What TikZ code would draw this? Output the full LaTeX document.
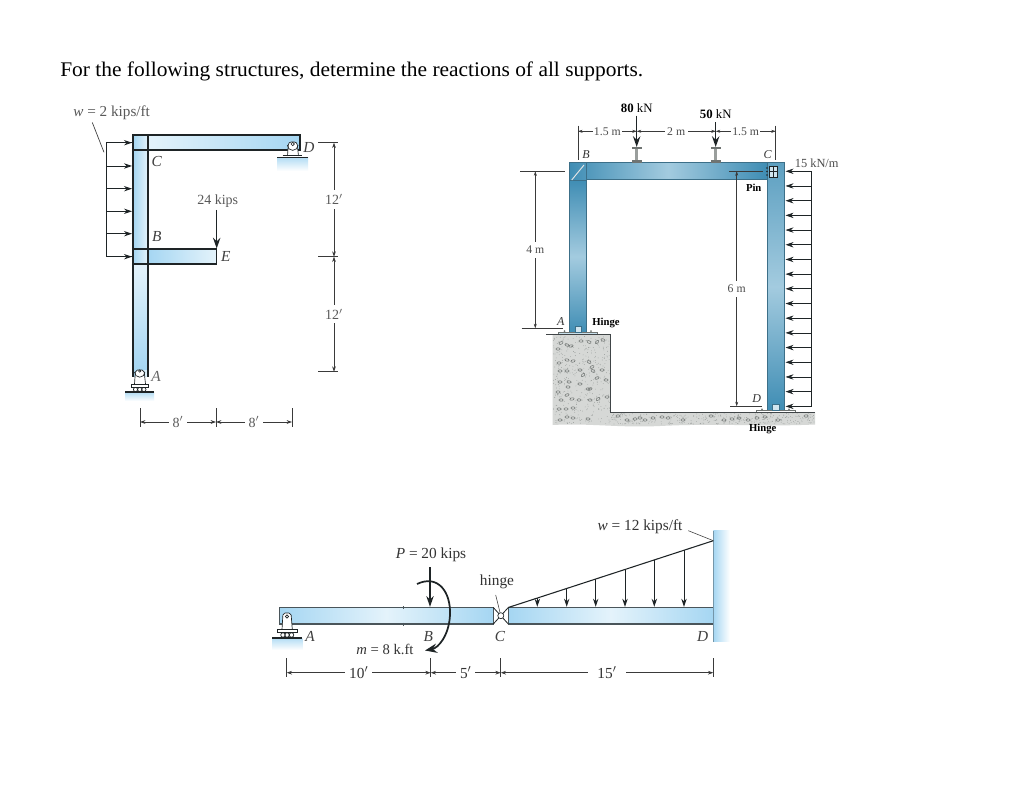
\documentclass[tikz,border=0pt]{standalone}
\usepackage{fontspec}
\setmainfont{Liberation Serif}
\usetikzlibrary{arrows.meta,calc}
\definecolor{inkk}{HTML}{1E2426}
\definecolor{dimc}{HTML}{3A3A3A}
\definecolor{skya}{HTML}{A5D6F2}
\definecolor{skyb}{HTML}{E4F3FB}
\definecolor{steela}{HTML}{3F8DB4}
\definecolor{steelb}{HTML}{A3CBDF}
\definecolor{steeld}{HTML}{3C6F88}
\definecolor{conc}{HTML}{D6D8D6}
\definecolor{stone}{HTML}{6F7472}
\definecolor{beamc}{HTML}{4A555A}
\tikzset{
  lbl/.style={inner sep=0pt,font=\fontsize{11.5pt}{13pt}\selectfont,text=black!80},
  flbl/.style={inner sep=0pt,font=\fontsize{10.5pt}{12pt}\selectfont,text=black!65},
  ilbl/.style={inner sep=0pt,font=\fontsize{11.5pt}{13pt}\selectfont\itshape,text=black!75},
  silbl/.style={inner sep=0pt,font=\fontsize{9pt}{10pt}\selectfont\itshape,text=black!80},
  blbl/.style={inner sep=0pt,font=\fontsize{8pt}{9pt}\selectfont\bfseries},
  slbl/.style={inner sep=0pt,font=\fontsize{8.8pt}{10pt}\selectfont,text=black!70},
  bkn/.style={inner sep=0pt,font=\fontsize{9.6pt}{11pt}\selectfont},
  dimline/.style={draw=dimc,line width=0.55pt},
  dimarrow/.style={dimline,{Stealth[length=4pt,width=2.8pt]}-{Stealth[length=4pt,width=2.8pt]}},
  thindim/.style={draw=dimc,line width=0.35pt},
  thinarrow/.style={thindim,{Stealth[length=3.4pt,width=2.2pt]}-{Stealth[length=3.4pt,width=2.2pt]}},
  loadarrow/.style={draw=inkk,line width=0.6pt,-{Stealth[length=6pt,width=4pt]}},
  forcearrow/.style={draw=inkk,line width=1.1pt,-{Stealth[length=8pt,width=5.5pt]}},
  member/.style={draw=inkk,line width=1.3pt},
  plate/.style={draw=inkk,fill=white,line width=0.5pt},
  groundfade/.style={top color=skya!85!white,bottom color=white,draw=none},
  aggr/.style={draw=stone,line width=0.4pt,fill=none},
}
\begin{document}
\begin{tikzpicture}[x=0.75pt,y=-0.75pt]
\useasboundingbox (0,0) rectangle (1024,798);
\fill[white] (0,0) rectangle (1024,798);

% heading
\node[anchor=base west,inner sep=0pt] (title) at (60,77)
  {\resizebox{437.25pt}{11pt}{\fontsize{15pt}{18pt}\selectfont For the following structures, determine the reactions of all supports.}};

% ===================== frame 1
\shade[left color=skya,right color=skyb] (133,135) rectangle (148,377);
\shade[left color=skyb,right color=skya] (148,135.5) rectangle (300,150);
\shade[left color=skya,right color=skyb] (148,249) rectangle (216.5,264);
\shade[top color=skyb,bottom color=skya] (133,264) rectangle (148,370);
\draw[member] (133,377) -- (133,135) -- (300,135) -- (300,150) -- (148,150);
\draw[member] (148,135) -- (148,377);
\draw[member] (133,150) -- (148,150);
\draw[member] (133,249) -- (216.5,249) -- (216.5,264) -- (133,264);
% pin D
\fill[groundfade] (277,157.5) rectangle (308,171);
\draw[plate,rounded corners=2pt,fill=white] (287.5,156) -- (288.5,142) -- (297,142) -- (298.5,156);
\draw[inkk,line width=0.5pt] (292.7,144) circle (1.7) (287.3,145) arc (180:0:5.4);
\draw[inkk,line width=1pt] (282.5,155.5) -- (302,155.5);
\draw[inkk,line width=0.8pt] (277,157.5) -- (308,157.5);
% roller A
\fill[groundfade] (125,392) rectangle (154,401);
\draw[plate,fill=white,rounded corners=1.5pt] (134.5,384) -- (135.5,370) -- (144,370) -- (145.5,384);
\draw[inkk,line width=0.5pt] (139.7,371) circle (1.2) (134.5,372) arc (180:0:5.2);
\draw[plate] (131,384.5) rectangle (148,387);
\foreach \xr in {135.5,139.7,143.9} \draw[inkk,line width=0.5pt] (\xr,389.5) circle (2.1);
\draw[inkk,line width=0.8pt] (125,392) -- (154,392);
% distributed load
\draw[inkk,line width=0.6pt] (132,142.7) coordinate (la) -| (106.7,256.7) -- (132,256.7);
\foreach \yy in {142.7,166,188.7,211.3,233.7,256.7}
  \draw[loadarrow] (106.7,\yy) -- (132,\yy);
\node[flbl,font=\fontsize{11.4pt}{13pt}\selectfont] (wone) at (111.7,112.5) {\textit{w} = 2 kips/ft};
\coordinate (wonetip) at (104,152.3);
\draw[dimc,line width=0.5pt] (92.3,122.5) -- (wonetip);
\node[ilbl] at (156.7,161.7) {C};
\node[ilbl] at (156.7,236.5) {B};
\node[ilbl] at (225.7,256.7) {E};
\node[ilbl] at (309,147.5) {D};
\node[ilbl,text=black!60] at (156,376) {A};
\node[flbl] (kips) at (217.7,201) {24 kips};
\draw[forcearrow] (216.7,210) -- (216.7,248.5);
% dimensions right
\draw[dimline] (318,142.7) -- (338,142.7) (318,256.7) -- (338,256.7) (318,371.7) -- (338,371.7);
\draw[dimarrow] (334,142.7) -- node[flbl,fill=white,inner ysep=3pt]{12$'$} (334,256.7);
\draw[dimarrow] (334,256.7) -- node[flbl,fill=white,inner ysep=3pt]{12$'$} (334,371.7);
% dimensions bottom
\draw[dimline] (140,408) -- (140,427) (216,408) -- (216,427) (292,408) -- (292,427);
\draw[dimarrow] (140,422) -- node[flbl,fill=white,inner xsep=3pt]{8$'$} (216,422);
\draw[dimarrow] (216,422) -- node[flbl,fill=white,inner xsep=3pt]{8$'$} (292,422);

% ===================== frame 2
% concrete
\fill[conc] (552.7,334.3) -- (610.7,334.3) -- (610.7,412.3) -- (815,412.3) -- (815,424.5)
  .. controls (760,427) and (720,423) .. (660,426) .. controls (620,428) and (590,423) .. (552.7,425) -- cycle;
\pgfmathsetseed{42}
\foreach \i in {1,...,420}{
  \pgfmathsetmacro{\px}{553+57*rnd}\pgfmathsetmacro{\py}{335+89*rnd}
  \fill[stone!80] (\px,\py) circle (0.35);
}
\foreach \i in {1,...,380}{
  \pgfmathsetmacro{\px}{611+203*rnd}\pgfmathsetmacro{\py}{413+11*rnd}
  \fill[stone!80] (\px,\py) circle (0.35);
}
\foreach \ax/\ay/\ar in {
  561/343/30,567/345/-20,571/346/10,581/341/0,589/342/-30,597/342/40,603/340/-20,
  558/349/0,559/363/0,567/360/-10,573/361/10,589/362/-30,
  560/371/0,567/371/0,580/370/0,592/367/30,593/371/-30,602/370/0,
  583/375/40,597/378/20,606/380/0,560/382/0,569/382/0,580/384/0,
  568/387/0,588/389/0,590/389/20,558/392/0,567/395/20,572/399/10,
  561/400/0,579/400/0,590/400/0,598/399/40,607/397/0,
  559/409/0,566/409/0,573/408/0,
  560/420/0,567/417/0,573/418/0,588/419/0,
  618/416/0,627/420/0,635/419/0,640/418/0,645/420/0,653/418/0,662/417/0,668/418/0,683/420/0,
  711/416/0,724/420/0,732/419/0,739/418/0,748/420/0,757/418/0,765/417/0,778/420/0,806/416/0}
  \draw[aggr,rotate around={\ar:(\ax,\ay)}] (\ax,\ay) ellipse (2.1 and 1.2);
% columns and beam
\shade[top color=steela,bottom color=steela,middle color=steelb] (569.3,179.7) rectangle (586.7,333.5);
\shade[top color=steela!70!steelb,bottom color=steela,middle color=steelb] (767,163) rectangle (784.7,410.5);
\shade[left color=steela,right color=steela,middle color=steelb] (569.3,162.7) rectangle (767,179.7);
\draw[steeld,line width=0.7pt] (569.3,333.5) -- (569.3,162.7) -- (784.7,162.7) -- (784.7,410.5)
  (586.7,333.5) -- (586.7,179.7) -- (767,179.7) (767,162.7) -- (767,410.5);
\draw[steeld,line width=0.7pt] (569.3,180) -- (586.7,180) (586.7,162.7) -- (586.7,180);
\draw[white!90!black,line width=0.7pt] (571.7,180) -- (584,165);
% pin at C
\fill[steelb!50!white] (769.5,166) rectangle (777,177);
\draw[inkk,line width=0.6pt] (769.5,166) rectangle (777,177) (773.2,166) -- (773.2,177) (769.5,171.5) -- (777,171.5);
\fill[inkk] (767,168) circle (0.9) (767,171.5) circle (0.9) (767,175) circle (0.9);
% supports frame 2
\fill[steelb!60!white] (558,332) rectangle (597,334);
\draw[stone,line width=0.5pt] (558,334.3) -- (558,332) -- (597.3,332) -- (597.3,334.3);
\draw[steeld,fill=steelb!50!white,line width=0.5pt] (575,326.5) rectangle (581.7,332.5);
\fill[stone] (564.5,331.2) circle (1) (591,331.2) circle (1);
\draw[stone,line width=0.5pt] (756,412.3) -- (756,410) -- (795,410) -- (795,412.3);
\draw[steeld,fill=steelb!50!white,line width=0.5pt] (772.3,404.5) rectangle (779,410);
\fill[stone] (762,409.3) circle (1) (789,409.3) circle (1);
\draw[inkk!85,line width=0.7pt] (546,334.3) -- (610.7,334.3) -- (610.7,412.3) -- (815,412.3);
% I-sections
\foreach \cx in {636.7,715.7}{
  \fill[stone] (\cx-5,147) rectangle (\cx+5.5,149);
  \fill[stone!70!white] (\cx-1.6,149) rectangle (\cx+1.6,161);
  \fill[stone] (\cx-5,160.5) rectangle (\cx+5.5,162.7);
}
\node[bkn] at (636.7,107.7) {\textbf{80} kN};
\node[bkn] at (715.7,114.3) {\textbf{50} kN};
\draw[forcearrow,line width=1pt] (636.7,115.7) -- (636.7,147);
\draw[forcearrow,line width=1pt] (715.7,122.3) -- (715.7,147);
% dims top
\draw[thindim] (578,125.7) -- (578,160) (775.7,125.7) -- (775.7,160);
\draw[thinarrow] (578,131.3) -- node[slbl,fill=white,inner xsep=1pt]{1.5 m} (636.7,131.3);
\draw[thinarrow] (636.7,131.3) -- node[slbl,fill=white,inner xsep=2pt]{2 m} (715.7,131.3);
\draw[thinarrow] (715.7,131.3) -- node[slbl,fill=white,inner xsep=1pt]{1.5 m} (775.7,131.3);
% 4 m
\draw[thindim] (520,171.3) -- (565,171.3) (521.7,328.3) -- (563,328.3);
\draw[thinarrow] (535.3,171.3) -- node[slbl,fill=white,inner ysep=3pt]{4 m} (535.3,328.3);
% 6 m
\draw[thindim] (729.3,171.3) -- (763,171.3) (730,406.3) -- (761.7,406.3);
\draw[thinarrow] (736.7,171.3) -- node[slbl,fill=white,inner ysep=3pt]{6 m} (736.7,406.3);
% load
\draw[inkk,line width=0.5pt] (811.7,171.3) -- (811.7,406.3);
\foreach \k in {0,...,16}{
  \pgfmathsetmacro{\yy}{171.3+14.69*\k}
  \draw[loadarrow,line width=0.5pt] (811.7,\yy) -- (785.5,\yy);
}
\node[slbl,font=\fontsize{9.3pt}{10pt}\selectfont] at (816.7,163.3) {15 kN/m};
\node[blbl] at (606,322.7) {Hinge};
\node[blbl] at (762.7,429) {Hinge};
\node[blbl] at (753.7,188) {Pin};
\node[silbl] at (560.7,322) {A};
\node[silbl] at (756.7,398.3) {D};
\node[silbl] at (586,155) {B};
\node[silbl] at (767.7,155) {C};

% ===================== beam 3
\shade[left color=skya,right color=skya,middle color=skyb] (279.3,607.5) rectangle (493.3,624);
\shade[left color=skya,right color=skya,middle color=skyb] (508.3,607.5) rectangle (713.3,624);
\draw[beamc,line width=1.2pt] (279.3,624) -- (279.3,607.5) -- (493.3,607.5) -- (493.3,624) -- cycle;
\draw[beamc,line width=1.2pt] (713.3,607.5) -- (508.3,607.5) -- (508.3,624) -- (713.3,624);
\draw[beamc,line width=0.5pt] (403,606) -- (403,609) (403,622.5) -- (403,625.5);
% hinge C
\draw[inkk,line width=0.6pt] (493.3,607.5) -- (508.3,624) (508.3,607.5) -- (493.3,624);
\node[draw=inkk,fill=white,circle,inner sep=0pt,minimum size=4.5pt,line width=0.5pt] (hingepin) at (500.8,615.7) {};
\node[lbl] (hingetxt) at (497,581.7) {hinge};
\draw[dimc,line width=0.4pt] (495.7,595) -- (hingepin);
% wall
\shade[left color=skya,right color=white] (713.3,530.7) rectangle (730,641.7);
\draw[skya!70!black,line width=0.5pt] (713.3,530.7) -- (713.3,641.7);
% triangular load
\coordinate (tl) at (508.3,607.5);
\coordinate (tr) at (713.3,540.7);
\draw[inkk,line width=0.8pt] (tl) -- (tr);
\foreach \xa in {537.3,566.7,595.7,625,654.3,684}{
  \pgfmathsetmacro{\ya}{607.5-(\xa-508.3)*66.8/205}
  \draw[loadarrow,line width=0.7pt] (\xa,\ya) -- (\xa,606.8);
}
\node[lbl] (wtwo) at (640,526.7) {\textit{w} = 12 kips/ft};
\draw[dimc,line width=0.4pt] (688.3,530.7) -- (tr);
% roller A
\fill[groundfade] (272.3,638) rectangle (302.3,650);
\draw[plate,rounded corners=1.5pt] (282,629.5) -- (283,613) -- (291,613) -- (292.3,629.5);
\draw[inkk,line width=0.5pt] (287,616.5) circle (1.6);
\draw[plate,line width=0.7pt] (277.5,629.5) rectangle (297.3,632.5);
\foreach \xr in {283,287,291.5} \draw[inkk,line width=0.55pt] (\xr,635) circle (2.3);
\draw[inkk,line width=0.8pt] (272.3,638) -- (302.3,638);
% force and moment
\node[lbl] (ptxt) at (431,555) {\textit{P} = 20 kips};
\draw[forcearrow] (430,567.3) -- (430,606.8);
\draw[inkk,line width=1.3pt,-{Stealth[length=9pt,width=7pt,inset=3pt]}] (417,584) .. controls (438,574) and (451,592) .. (450,615)
  .. controls (449,636) and (438,648) .. (425,650.5);
\node[lbl,font=\fontsize{11pt}{13pt}\selectfont] (mtxt) at (385,649.3) {\textit{m} = 8 k.ft};
\node[ilbl] at (310,636.7) {A};
\node[ilbl] at (428.3,636.7) {B};
\node[ilbl] at (500,636.7) {C};
\node[ilbl] at (702.7,636.7) {D};
% dims
\draw[dimline] (286.7,658) -- (286.7,677) (430.7,658) -- (430.7,677) (500.7,658) -- (500.7,677) (713.3,658) -- (713.3,677);
\draw[dimarrow] (286.7,672.7) -- node[lbl,fill=white,inner xsep=3pt]{10$'$} (430.7,672.7);
\draw[dimarrow] (430.7,672.7) -- node[lbl,fill=white,inner xsep=3pt]{5$'$} (500.7,672.7);
\draw[dimarrow] (500.7,672.7) -- node[lbl,fill=white,inner xsep=7pt]{15$'$} (713.3,672.7);
\end{tikzpicture}
\end{document}
